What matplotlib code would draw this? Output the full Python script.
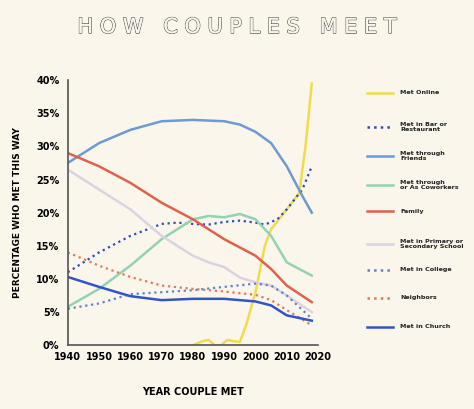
import matplotlib
matplotlib.use("Agg")
import matplotlib.pyplot as plt
import matplotlib.patheffects as pe
from matplotlib.lines import Line2D

BG = "#FBF6EC"
friends_x = [1940,1950,1960,1970,1980,1990,1995,2000,2005,2010,2015,2018]
friends_y = [27.5,30.5,32.5,33.8,34,33.8,33.3,32.2,30.5,27,22.5,20]
family_x = [1940,1950,1960,1970,1980,1990,2000,2005,2010,2018]
family_y = [29,27,24.5,21.5,19,16,13.5,11.5,9,6.5]
school_x = [1940,1950,1960,1970,1980,1985,1990,1995,2000,2005,2010,2018]
school_y = [26.5,23.5,20.5,16.5,13.5,12.5,11.8,10.2,9.5,9,7.5,5]
cowork_x = [1940,1950,1960,1970,1980,1985,1990,1995,2000,2005,2010,2018]
cowork_y = [5.8,8.5,12,16,19,19.5,19.3,19.8,19,16.5,12.5,10.5]
bar_x = [1940,1950,1960,1970,1975,1980,1985,1990,1995,2000,2003,2007,2010,2015,2018]
bar_y = [11,14,16.5,18.3,18.5,18.3,18.2,18.6,18.8,18.5,18.2,19,20.5,23.5,27]
college_x = [1940,1950,1960,1970,1980,1990,2000,2005,2010,2018]
college_y = [5.5,6.3,7.7,8,8.3,8.8,9.3,9,7.5,4]
neigh_x = [1940,1950,1960,1970,1980,1990,2000,2005,2010,2018]
neigh_y = [14,12,10.3,9,8.5,8.1,7.6,6.8,5.3,3]
church_x = [1940,1950,1960,1970,1980,1990,2000,2005,2010,2018]
church_y = [10.3,8.8,7.4,6.8,7,7,6.6,6,4.5,3.7]
online_x = [1980,1983,1985,1987,1989,1991,1993,1995,1997,2000,2003,2005,2010,2014,2016,2018]
online_y = [0,0.6,0.8,0,0,0.8,0.6,0.5,3,8,15,17.5,20.5,23,30,39.5]

series = [
    ("Met Online", online_x, online_y, "#F0DC4A", "-"),
    ("Met in Bar or\nRestaurant", bar_x, bar_y, "#2F4BB8", ":"),
    ("Met through\nFriends", friends_x, friends_y, "#6E9AD2", "-"),
    ("Met through\nor As Coworkers", cowork_x, cowork_y, "#93D2B4", "-"),
    ("Family", family_x, family_y, "#E0624A", "-"),
    ("Met in Primary or\nSecondary School", school_x, school_y, "#DDD3E0", "-"),
    ("Met in College", college_x, college_y, "#5A86C8", ":"),
    ("Neighbors", neigh_x, neigh_y, "#E07A5A", ":"),
    ("Met in Church", church_x, church_y, "#2F55C8", "-"),
]
leg_y = [93,127,156,185,211,244,270,298,327]

fig = plt.figure(figsize=(4.74,4.09), dpi=100, facecolor=BG)
ax = fig.add_axes([0.143,0.156,0.528,0.648], facecolor=BG)
for name,x,y,c,ls in series:
    ax.plot(x,y,color=c,ls=ls,lw=1.8 if ls=="-" else 1.6)
ax.set_xlim(1940,2020); ax.set_ylim(0,40)
ax.set_xticks(range(1940,2021,10))
ax.set_yticks(range(0,41,5))
ax.set_yticklabels([f"{v}%" for v in range(0,41,5)])
for s in ["top","right"]: ax.spines[s].set_visible(False)
for s in ["left","bottom"]: ax.spines[s].set_color("#555555"); ax.spines[s].set_linewidth(1.2)
ax.tick_params(axis="x", length=0, labelsize=7, pad=5)
ax.tick_params(axis="y", length=0, labelsize=7, pad=6)
for t in ax.get_xticklabels()+ax.get_yticklabels(): t.set_fontweight("bold")
ax.set_xlabel("YEAR COUPLE MET", fontsize=7, fontweight="bold", labelpad=18)
ax.set_ylabel("PERCENTAGE WHO MET THIS WAY", fontsize=6.5, fontweight="bold", labelpad=10)

t = fig.text(0.5, 1-27/409, "H O W   C O U P L E S   M E E T", ha="center", va="center", fontsize=15,
             color=BG, family="DejaVu Sans")
t.set_path_effects([pe.withStroke(linewidth=1.0, foreground="#555555"), pe.Normal()])

for (name,x,y,c,ls),py in zip(series,leg_y):
    yy = 1-py/409
    fig.add_artist(Line2D([367/474,393/474],[yy,yy],color=c,ls=ls,lw=1.8,transform=fig.transFigure))
    fig.text(400/474, yy, name, fontsize=4.6, fontweight="bold", va="center", ha="left", color="#222222")

fig.savefig("out.png", dpi=100, facecolor=BG)
